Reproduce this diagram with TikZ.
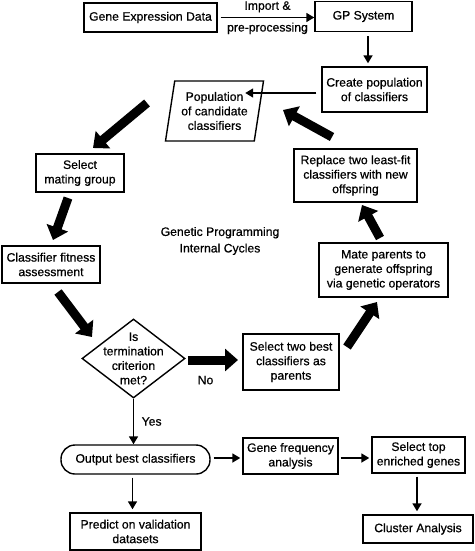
\documentclass[tikz,border=0pt]{standalone}
\usepackage{fontspec}
\setmainfont{Liberation Sans}[FakeBold=0.6]
\usetikzlibrary{shapes.geometric,arrows.meta,calc}

\begin{document}
\begin{tikzpicture}[x=1pt,y=-1pt,
    font=\fontsize{12.2}{14.5}\selectfont,
    box/.style={draw,line width=1.4pt,align=center,inner sep=1pt},
    flow/.style={line width=1.7pt,-{Triangle[length=8pt,width=9pt]}},
    bigarrow/.style={line width=9pt,-{Triangle[length=13pt,width=22pt]}}]
  \useasboundingbox (0,0) rectangle (474,551);

  % Nodes
  \node[box,minimum width=133pt,minimum height=29pt] (gene) at (150.5,17.5) {Gene Expression Data};
  \node[box,minimum width=97pt,minimum height=30pt] (gp) at (363.5,16.5) {GP System};
  \node[box,minimum width=105pt,minimum height=45pt] (create) at (374.5,89.5) {Create population\\of classifiers};
  \node[box,trapezium,trapezium left angle=77,trapezium right angle=103,trapezium stretches body,
        minimum width=98pt,minimum height=60pt] (pop) at (214.5,111) {Population\\of candidate\\classifiers};
  \node[box,minimum width=88pt,minimum height=38pt] (mating) at (80,173) {Select\\mating group};
  \node[box,minimum width=123pt,minimum height=53pt] (replace) at (355.5,175.5) {Replace two least-fit\\classifiers with new\\offspring};
  \node[box,minimum width=98pt,minimum height=37pt] (fitness) at (51,264.5) {Classifier fitness\\assessment};
  \node[align=center] (cycles) at (220,241) {Genetic Programming\\[2pt]Internal Cycles};
  \node[box,minimum width=129pt,minimum height=54pt] (mate) at (383.5,270) {Mate parents to\\generate offspring\\via genetic operators};
  \node[draw,line width=1.4pt,diamond,minimum width=103pt,minimum height=79pt,inner sep=0pt,
        label={[align=center]center:Is\\termination\\criterion\\met?}] (term) at (133.5,358.5) {};
  \node[box,minimum width=96pt,minimum height=56pt] (best) at (291,362) {Select two best\\classifiers as\\parents};
  \node[box,rounded corners=14pt,minimum width=149pt,minimum height=29pt] (output) at (135.5,459.5) {Output best classifiers};
  \node[box,minimum width=95pt,minimum height=36pt] (freq) at (290.5,456) {Gene frequency\\analysis};
  \node[box,minimum width=93pt,minimum height=36pt] (top) at (418.5,455) {Select top\\enriched genes};
  \node[box,minimum width=131pt,minimum height=37pt] (predict) at (135.5,531.5) {Predict on validation\\datasets};
  \node[box,minimum width=110pt,minimum height=28pt] (cluster) at (418,529) {Cluster Analysis};

  % Arrows
  \draw[flow] (gene.east) ++(3,0) coordinate (g0) -- (g0 -| gp.west)
    node[midway,above=1pt] {Import \&} node[midway,below=1pt] {pre-processing};
  \draw[flow] ($(gp.south)+(4.5,4)$) -- ($(gp.south |- create.north)+(4.5,-3)$);
  \draw[flow] ($(create.west)+(-5,3.5)$) -- ($(pop.north east |- create.west)+(0,3.5)$);
  \draw[bigarrow] ($(pop)+(-67.5,-8)$) -- ($(mating)+(13,-25)$);
  \draw[bigarrow] ($(mating)+(-12,25)$) -- ($(fitness)+(2,-24.5)$);
  \draw[bigarrow] ($(fitness)+(7,27.5)$) -- ($(term)+(-41.5,-21.5)$);
  \draw[bigarrow] ($(term)+(54.5,1.5)$) -- ($(best)+(-53,-2)$)
    node[pos=0.35,below=8pt] {No};
  \draw[bigarrow] ($(best)+(56,-15)$) -- ($(mate)+(-6.5,32)$);
  \draw[bigarrow] ($(mate)+(-3.5,-32)$) -- ($(replace)+(6.5,29.5)$);
  \draw[bigarrow] ($(replace)+(-23.5,-38.5)$) -- ($(pop)+(68.5,-1)$);
  \draw[flow] (term.south) -- (term.south |- output.north) node[midway,right=4pt] {Yes};
  \draw[flow] ($(output.east)+(3,-1.5)$) -- ($(output.east -| freq.west)+(-2,-1.5)$);
  \draw[flow] ($(freq.east)+(2,2)$) -- ($(freq.east -| top.west)+(-2,2)$);
  \draw[flow] ($(output.south)+(-3,3)$) -- ($(output.south |- predict.north)+(-3,-3)$);
  \draw[flow] ($(top.south)+(-1.5,3)$) -- ($(top.south |- cluster.north)+(-1.5,-3)$);
\end{tikzpicture}
\end{document}
